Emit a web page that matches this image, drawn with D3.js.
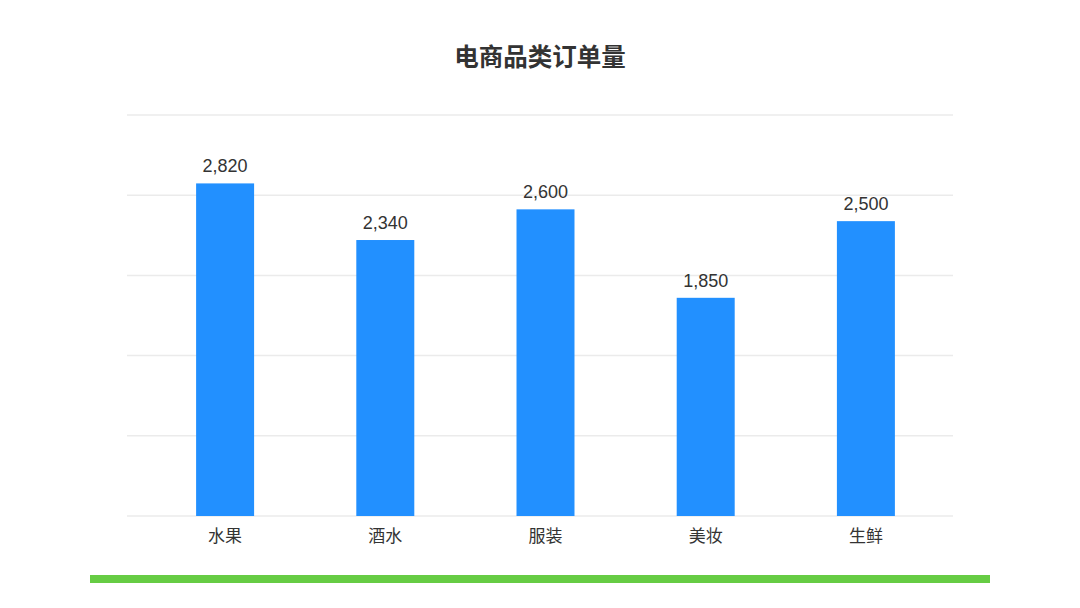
<!DOCTYPE html>
<html>
<head>
<meta charset="utf-8">
<script src="https://cdn.jsdelivr.net/npm/d3@7/dist/d3.min.js"></script>
<style>
    body { margin: 0; background: #fff; }
    svg { display: block; font-family: "Noto Sans CJK SC", "Noto Sans", sans-serif; }
</style>
</head>
<body>
<svg id="chart" width="1080" height="608"></svg>
<script>
const categories = ['水果', '酒水', '服装', '美妆', '生鲜'];
const orders = [2820, 2340, 2600, 1850, 2500];
const gridTicks = [0, 680, 1360, 2040, 2720, 3400];

const svg = d3.select('#chart');
const width = 1080;

// title
svg.append('text')
    .attr('x', width / 2)
    .attr('y', 66)
    .attr('text-anchor', 'middle')
    .attr('font-size', 24.5)
    .attr('font-weight', 'bold')
    .attr('fill', '#333')
    .text('电商品类订单量');

const x = d3.scaleBand()
    .domain(categories)
    .range([145, 946])
    .paddingInner(0.638)
    .paddingOuter(0.319);

const y = d3.scaleLinear()
    .domain([0, 3400])
    .range([516, 115]);

// grid lines
svg.append('g')
    .selectAll('line')
    .data(gridTicks)
    .join('line')
    .attr('x1', 127)
    .attr('x2', 953)
    .attr('y1', d => y(d))
    .attr('y2', d => y(d))
    .attr('stroke', '#ebebeb')
    .attr('stroke-width', 1.5);

// bars
svg.append('g')
    .selectAll('rect')
    .data(orders)
    .join('rect')
    .attr('x', (d, i) => x(categories[i]))
    .attr('y', d => y(d))
    .attr('width', x.bandwidth())
    .attr('height', d => y(0) - y(d))
    .attr('fill', '#2290ff');

// value labels
svg.append('g')
    .selectAll('text')
    .data(orders)
    .join('text')
    .attr('x', (d, i) => x(categories[i]) + x.bandwidth() / 2)
    .attr('y', d => y(d) - 11)
    .attr('text-anchor', 'middle')
    .attr('font-size', 18)
    .attr('font-family', '"Liberation Sans", Arial, sans-serif')
    .attr('fill', '#333')
    .text(d => d3.format(',')(d));

// x axis labels
const xAxis = svg.append('g')
    .attr('transform', `translate(0,${y(0)})`)
    .call(d3.axisBottom(x).tickSize(0).tickPadding(14));
xAxis.select('.domain').remove();
xAxis.selectAll('text')
    .attr('font-size', 17)
    .attr('fill', '#333')
    .attr('font-family', '"Noto Sans CJK SC", sans-serif');

// bottom accent bar
svg.append('rect')
    .attr('x', 90)
    .attr('y', 575)
    .attr('width', 900)
    .attr('height', 8)
    .attr('fill', '#66cc44');
</script>
</body>
</html>
